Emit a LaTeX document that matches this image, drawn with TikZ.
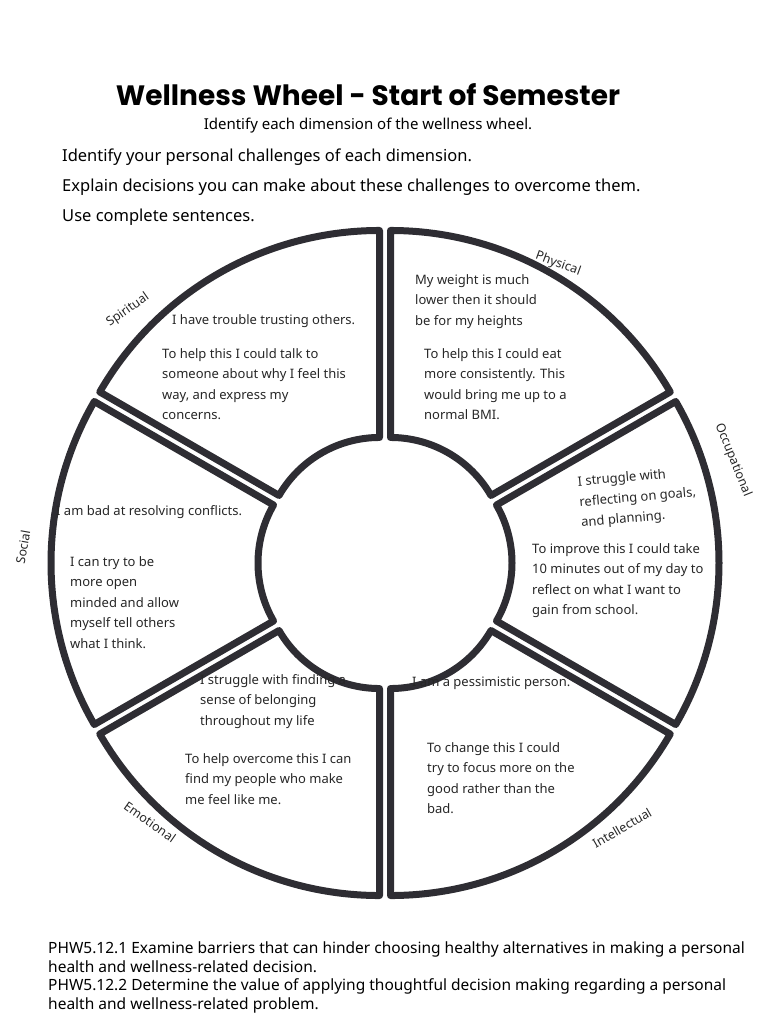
\documentclass[tikz,border=0pt]{standalone}
\usepackage{fontspec}
\setmainfont{Noto Sans}
\newfontfamily\titlef{Poppins}
\begin{document}
\begin{tikzpicture}[x=1pt,y=-1pt,
  seg/.style={draw=wheel,line width=7pt,line join=round},
  tx/.style={anchor=north west,align=left,inner sep=0pt,font=\fontsize{13}{20.5}\selectfont,text=black!85},
  lab/.style={font=\fontsize{12.5}{14}\selectfont,text=black!85},
  ins/.style={anchor=west,inner sep=0pt,font=\fontsize{16.5}{18}\selectfont}]
\definecolor{wheel}{HTML}{2E2D33}
\useasboundingbox (0,0) rectangle (768,1024);
\coordinate (c) at (385,563);
\foreach \a in {30,90,150,210,270,330}{
  \begin{scope}[shift={(c)},shift={(\a+30:11)}]
    \draw[seg] (\a:116) -- (\a:323)
      arc[start angle=\a,end angle=\a+60,radius=323] -- (\a+60:116)
      arc[start angle=\a+60,end angle=\a,radius=116] -- cycle;
  \end{scope}}
\node[font=\titlef\fontsize{28}{32}\selectfont\bfseries] (title) at (368,95) {Wellness Wheel - Start of Semester};
\node[font=\fontsize{15}{16}\selectfont] (sub) at (368,126) {Identify each dimension of the wellness wheel.};
\node[ins] (i1) at (62,157) {Identify your personal challenges of each dimension.};
\node[ins] (i2) at (62,187) {Explain decisions you can make about these challenges to overcome them.};
\node[ins] (i3) at (62,217) {Use complete sentences.};
\node[lab,rotate=-20] (lp) at (558,264) {Physical};
\node[lab,rotate=-68] (lo) at (733,460) {Occupational};
\node[lab,rotate=30] (li) at (622,828) {Intellectual};
\node[lab,rotate=-35] (le) at (150,822) {Emotional};
\node[lab,rotate=80] (ls) at (23,547) {Social};
\node[lab,rotate=35] (lsp) at (128,310) {Spiritual};
\node[tx] (p1) at (415,274) {My weight is much\\lower then it should\\be for my heights};
\node[tx] (p2) at (424,348) {To help this I could eat\\more consistently. This\\would bring me up to a\\normal BMI.};
\node[tx] (s1) at (172,314) {I have trouble trusting others.};
\node[tx] (s2) at (162,348) {To help this I could talk to\\someone about why I feel this\\way, and express my\\concerns.};
\node[tx,rotate=5] (o1) at (577,476) {I struggle with\\reflecting on goals,\\and planning.};
\node[tx] (o2) at (532,543) {To improve this I could take\\10 minutes out of my day to\\reflect on what I want to\\gain from school.};
\node[tx] (so1) at (56,505) {I am bad at resolving conflicts.};
\node[tx] (so2) at (70,556) {I can try to be\\more open\\minded and allow\\myself tell others\\what I think.};
\node[tx] (e1) at (200,674) {I struggle with finding a\\sense of belonging\\throughout my life};
\node[tx] (e2) at (185,753) {To help overcome this I can\\find my people who make\\me feel like me.};
\node[tx] (in1) at (412,677) {I am a pessimistic person.};
\node[tx] (in2) at (427,742) {To change this I could\\try to focus more on the\\good rather than the\\bad.};
\node[anchor=north west,align=left,inner sep=0pt,font=\fontsize{15.5}{18.5}\selectfont] (std) at (48,942) {PHW5.12.1 Examine barriers that can hinder choosing healthy alternatives in making a personal\\health and wellness-related decision.\\PHW5.12.2 Determine the value of applying thoughtful decision making regarding a personal\\health and wellness-related problem.};
\end{tikzpicture}
\end{document}
